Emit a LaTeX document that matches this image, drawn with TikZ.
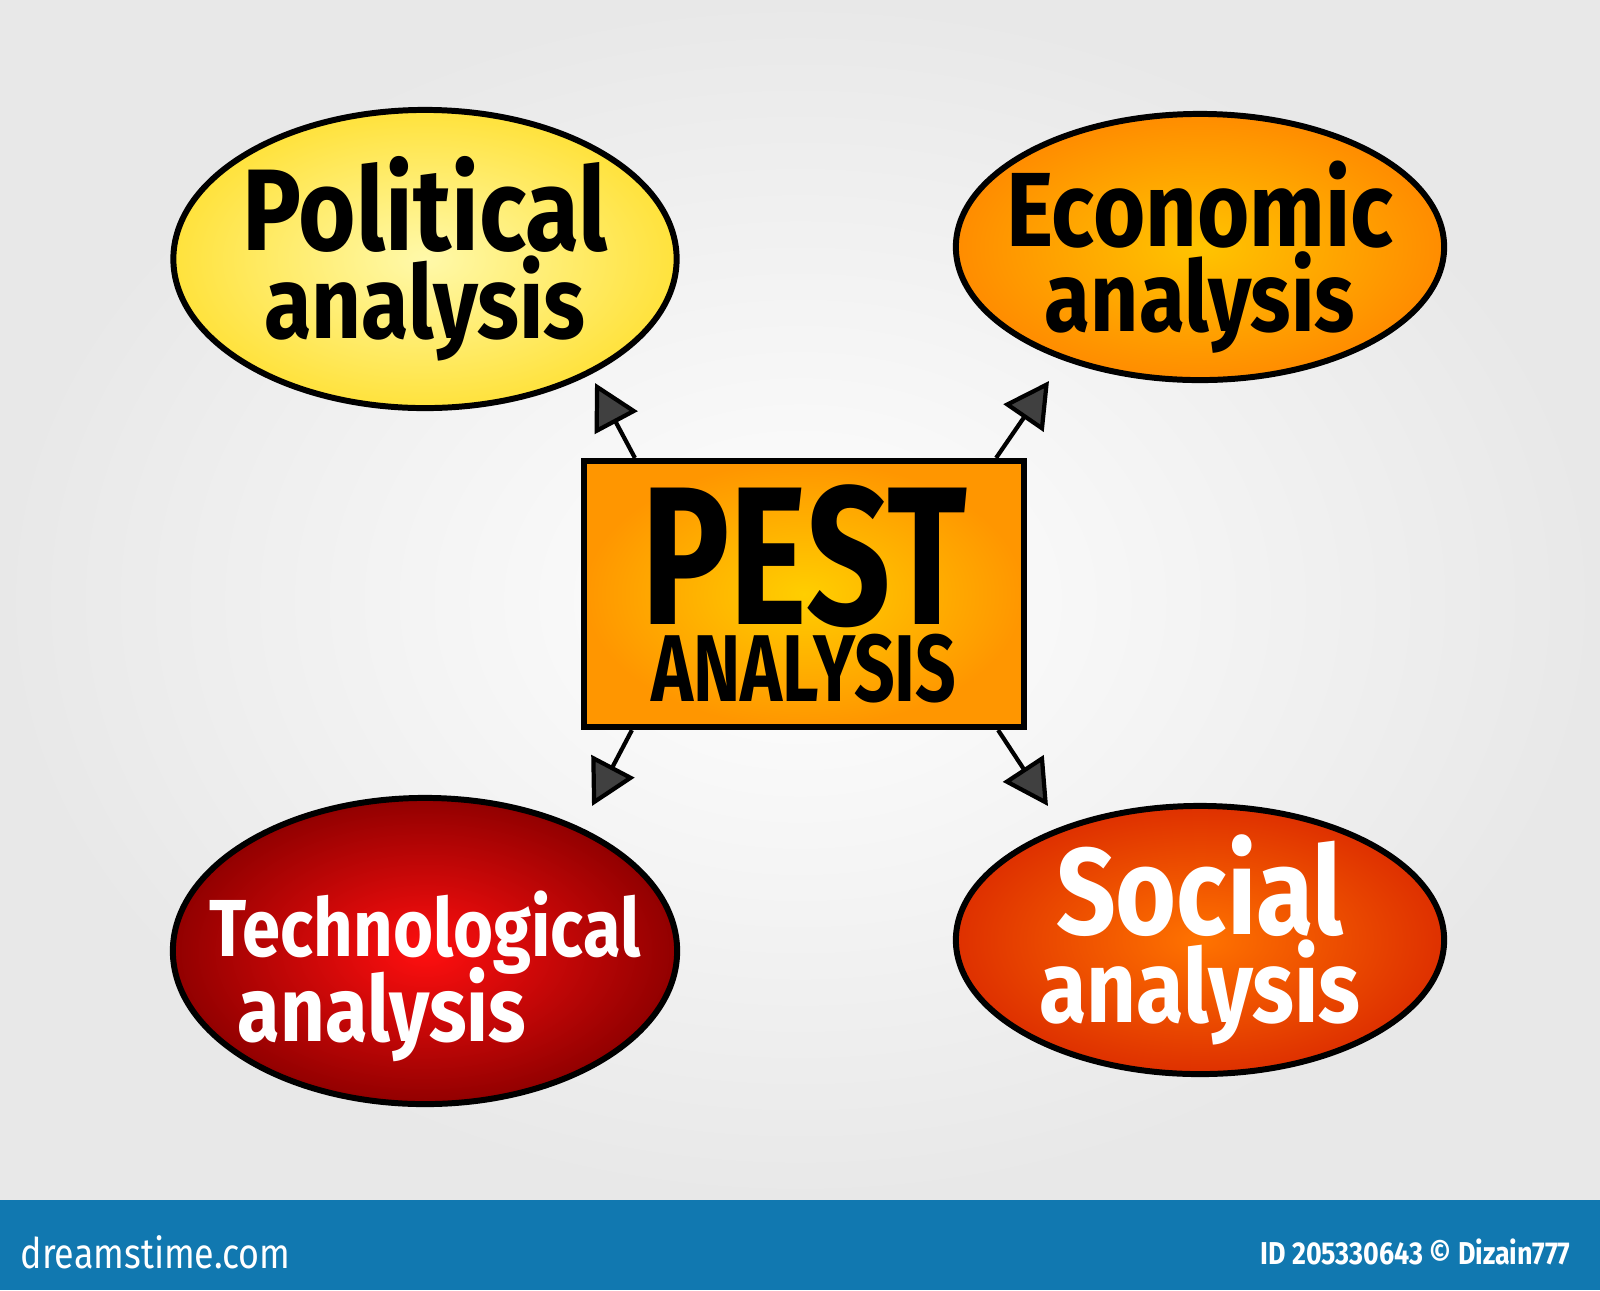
\documentclass[tikz,border=0pt]{standalone}
\usepackage{fontspec}
\setmainfont{Fira Sans}
\newfontfamily\handfont[FakeStretch=0.85]{Fira Sans}
\newfontfamily\tallfont[FakeStretch=0.75]{Fira Sans}
\usetikzlibrary{shapes.geometric,arrows.meta}

\definecolor{footblue}{RGB}{17,120,176}
\definecolor{polin}{RGB}{255,249,170}
\definecolor{polout}{RGB}{255,226,60}
\definecolor{ecoin}{RGB}{255,196,0}
\definecolor{ecoout}{RGB}{255,140,0}
\definecolor{tecin}{RGB}{255,15,15}
\definecolor{tecout}{RGB}{145,0,0}
\definecolor{socin}{RGB}{255,115,0}
\definecolor{socout}{RGB}{222,48,0}
\definecolor{pestin}{RGB}{255,206,0}
\definecolor{pestout}{RGB}{255,150,0}

\begin{document}
\begin{tikzpicture}[x=0.01cm,y=-0.01cm,
  bubble/.style={draw,ellipse,line width=1.7pt,inner xsep=-1.2cm,inner ysep=-0.5cm,align=center},
  link/.style={line width=1.2pt,-{Triangle[length=0.45cm,width=0.48cm,fill=black!75,line width=1.2pt]}}]
  \useasboundingbox (0,0) rectangle (1600,1290);
  % background and footer
  \shade[inner color=white,outer color=black!9] (0,0) rectangle (1600,1200);
  \fill[footblue] (0,1200) rectangle (1600,1290);

  % centre box
  \node[draw,line width=1.7pt,inner sep=0pt,minimum width=4.40cm,minimum height=2.66cm,
        inner color=pestin,outer color=pestout,align=center,
        font=\tallfont\bfseries\fontsize{27}{22}\selectfont]
        (pest) at (804,594) {{\fontsize{56}{22}\selectfont PEST}\\ANALYSIS};

  % the four topics
  \node[bubble,minimum width=5.03cm,minimum height=2.98cm,inner color=polin,outer color=polout,
        font=\handfont\bfseries\fontsize{29}{23}\selectfont]
        (pol) at (425,259) {{\fontsize{33}{23}\selectfont Political}\\analysis};
  \node[bubble,minimum width=4.88cm,minimum height=2.66cm,inner color=ecoin,outer color=ecoout,
        font=\handfont\bfseries\fontsize{28}{20.5}\selectfont]
        (eco) at (1200,247) {\rule{0pt}{30pt}{\fontsize{30}{20.5}\selectfont Economic}\\analysis};
  \node[bubble,minimum width=5.04cm,minimum height=3.06cm,inner color=tecin,outer color=tecout,
        text=white,font=\handfont\bfseries\fontsize{26}{21}\selectfont]
        (tec) at (425,951) {\rule{0pt}{33pt}{\fontsize{23}{21}\selectfont Technological}\\[-3pt]analysis\hspace*{0.86cm}};
  \node[bubble,minimum width=4.88cm,minimum height=2.68cm,inner color=socin,outer color=socout,
        text=white,font=\handfont\bfseries\fontsize{29}{23}\selectfont]
        (soc) at (1200,940) {{\fontsize{35}{23}\selectfont Social}\\analysis};

  % arrow ends
  \coordinate (polend) at (595,383);
  \coordinate (ecoend) at (1049,381);
  \coordinate (tecend) at (592,806);
  \coordinate (socend) at (1048,806);
  \draw[link] ([xshift=0.54cm]pest.north west) -- (polend);
  \draw[link] ([xshift=-0.31cm]pest.north east) -- (ecoend);
  \draw[link] ([xshift=0.51cm]pest.south west) -- (tecend);
  \draw[link] ([xshift=-0.29cm]pest.south east) -- (socend);

  % footer texts
  \node[anchor=west,inner sep=0pt,text=white,font=\handfont\fontsize{12}{12}\selectfont] (brand) at (20,1252) {dreamstime.com};
  \node[anchor=east,inner sep=0pt,text=white,font=\handfont\bfseries\fontsize{9}{9}\selectfont] (credit) at (1571,1252) {ID 205330643 © Dizain777};
\end{tikzpicture}
\end{document}
